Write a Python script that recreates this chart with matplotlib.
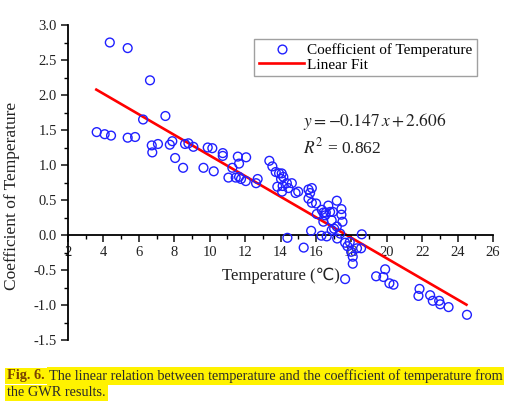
import matplotlib
matplotlib.use("Agg")
import matplotlib.pyplot as plt
from matplotlib.ticker import MultipleLocator, FixedLocator, FixedFormatter
from matplotlib.lines import Line2D

# ---- data ----
temp = [4.36, 5.37, 6.63, 3.62, 4.07, 4.43, 5.37, 5.79, 6.24, 7.50, 6.73, 6.76, 7.08,
        7.75, 7.89, 8.05, 8.50, 8.61, 8.80, 9.08, 9.65, 9.89, 10.15, 10.23, 10.74, 10.74,
        11.06, 11.28, 11.59, 11.66, 12.06, 11.47, 11.66, 11.77, 12.04, 12.71, 12.62,
        13.37, 13.54, 13.73, 13.92, 14.07, 14.16, 14.03, 13.82, 14.12, 14.09, 14.36,
        14.64, 14.45, 14.85, 14.39, 15.00, 15.58, 15.77, 15.67, 15.58, 15.77, 16.01,
        16.05, 16.70, 17.18, 16.33, 16.42, 16.56, 16.80, 16.96, 16.52, 17.44, 17.44,
        17.50, 16.42, 16.89, 17.03, 16.89, 17.18, 17.37, 15.73, 16.31, 16.61, 17.20,
        15.31, 17.65, 17.91, 17.78, 17.99, 18.08, 18.08, 18.32, 18.55, 18.59, 17.65,
        19.40, 19.81, 19.91, 20.15, 20.38, 21.85, 21.79, 22.45, 22.60, 22.96, 23.02,
        23.49, 24.53]
coef = [2.75, 2.67, 2.21, 1.47, 1.44, 1.42, 1.39, 1.40, 1.65, 1.70, 1.28, 1.18, 1.30,
        1.29, 1.34, 1.10, 0.96, 1.30, 1.31, 1.26, 0.96, 1.25, 1.24, 0.91, 1.17, 1.13,
        0.82, 0.96, 1.12, 1.02, 1.11, 0.82, 0.83, 0.80, 0.77, 0.80, 0.74,
        1.06, 0.98, 0.90, 0.88, 0.88, 0.83, 0.80, 0.69, 0.70, 0.62, 0.74,
        0.74, 0.67, 0.60, -0.04, 0.62, 0.65, 0.67, 0.60, 0.52, 0.46, 0.45,
        0.30, 0.42, 0.49, 0.36, 0.32, 0.32, 0.33, 0.33, 0.28, 0.37, 0.29,
        0.19, 0.19, 0.21, 0.09, 0.07, 0.12, 0.02, 0.06, -0.01, -0.02, -0.05,
        -0.18, -0.11, -0.10, -0.16, -0.24, -0.31, -0.41, -0.19, -0.19, 0.01, -0.63,
        -0.59, -0.60, -0.49, -0.69, -0.71, -0.77, -0.87, -0.86, -0.94, -0.94, -0.99,
        -1.03, -1.14]
fit_x = [3.6, 24.5]
slope = -0.147
intercept = 2.606
r2 = 0.862
xticks = [2, 4, 6, 8, 10, 12, 14, 16, 18, 20, 22, 24, 26]
yticks = [-1.5, -1.0, -0.5, 0.0, 0.5, 1.0, 1.5, 2.0, 2.5, 3.0]
ytick_labels = ["-1.5", "-1.0", "-0.5", "0.0", "0.5", "1.0", "1.5", "2.0", "2.5", "3.0"]
cap_lead = "Fig. 6."
cap_line1 = "The linear relation between temperature and the coefficient of temperature from"
cap_line2 = "the GWR results."

serif = ["Liberation Serif", "DejaVu Serif"]
plt.rcParams["font.family"] = serif
plt.rcParams["mathtext.fontset"] = "stix"

fig = plt.figure(figsize=(5.16, 4.05), dpi=100)
ax = fig.add_axes([68/516, 65/405, 425/516, 315/405])

fit_y = [slope * v + intercept for v in fit_x]
ax.plot(fit_x, fit_y, color="#ff0000", lw=1.9, zorder=2)
ax.scatter(temp, coef, s=40, facecolors="none", edgecolors="#2020ff", linewidths=1.0, zorder=3)

ax.set_xlim(2, 26)
ax.set_ylim(-1.5, 3.0)
ax.spines["top"].set_visible(False)
ax.spines["right"].set_visible(False)
ax.spines["bottom"].set_position(("data", 0))
ax.spines["left"].set_linewidth(1.3)
ax.spines["bottom"].set_linewidth(1.3)

ax.xaxis.set_major_locator(FixedLocator(xticks))
ax.xaxis.set_major_formatter(FixedFormatter([str(v) for v in xticks]))
ax.xaxis.set_minor_locator(MultipleLocator(1))
ax.yaxis.set_major_locator(FixedLocator(yticks))
ax.yaxis.set_major_formatter(FixedFormatter(ytick_labels))
ax.yaxis.set_minor_locator(MultipleLocator(0.25))
ax.tick_params(which="major", direction="out", length=5, width=1.2, labelsize=10.5,
               colors="#222222", pad=3)
ax.tick_params(which="minor", direction="out", length=3, width=1.0)

ax.set_ylabel("Coefficient of Temperature", fontsize=12.5, color="#222222")
ax.yaxis.set_label_coords(-0.112, 0.457)
ax.text(0.5, 0.205, "Temperature (\u2103)", transform=ax.transAxes, ha="center", va="center",
        fontsize=12, color="#222222", family=["Liberation Serif", "DejaVu Sans"])

handles = [Line2D([], [], ls="none", marker="o", mfc="none", mec="#2020ff", ms=6.3, mew=1.0),
           Line2D([], [], color="#ff0000", lw=1.9)]
leg = ax.legend(handles, ["Coefficient of Temperature", "Linear Fit"], loc="upper left",
                bbox_to_anchor=(254/516, 1 - 39/405), bbox_transform=fig.transFigure,
                fontsize=11, frameon=True, fancybox=False, edgecolor="#888888",
                handlelength=3.0, handletextpad=0.2, labelspacing=0.05, borderpad=0.3,
                borderaxespad=0)
leg.get_frame().set_linewidth(1.0)

ax.text(303/516, 1 - 121/405, r"$y = -0.147\,x + 2.606$", transform=fig.transFigure,
        fontsize=12.5, va="center", ha="left", color="#222222")
ax.text(303/516, 1 - 147/405, r"$R^2$ = 0.862", transform=fig.transFigure,
        fontsize=12.5, va="center", ha="left", color="#222222")

# caption (auto-fit to the reference width)
hl = "#fff200"
cap_font = "Liberation Serif"
bb = dict(boxstyle="square,pad=0.14", fc=hl, ec="none")
r = fig.canvas.get_renderer()

def caption_width(size):
    a = fig.text(0, 0, cap_lead, fontsize=size, fontweight="bold", family=cap_font)
    b = fig.text(0, 0, cap_line1, fontsize=size, family=cap_font)
    wa = a.get_window_extent(r).width
    wb = b.get_window_extent(r).width
    a.remove(); b.remove()
    return wa + 4 + wb

size = 11.0
size = size * 498.0 / caption_width(size)

t1 = fig.text(7/516, 1 - 376/405, cap_lead, fontsize=size, fontweight="bold",
              color="#7a4400", va="center", ha="left", family=cap_font, bbox=bb, zorder=3)
w = t1.get_window_extent(r)
fig.text((w.x1 + 4) / 516, 1 - 376/405, cap_line1,
         fontsize=size, color="#2a2a2a", va="center", ha="left", family=cap_font, bbox=bb,
         zorder=2)
fig.text(7/516, 1 - 393/405, cap_line2, fontsize=size, color="#2a2a2a",
         va="center", ha="left", family=cap_font, bbox=bb, zorder=4)

fig.savefig("out.png", dpi=100)
